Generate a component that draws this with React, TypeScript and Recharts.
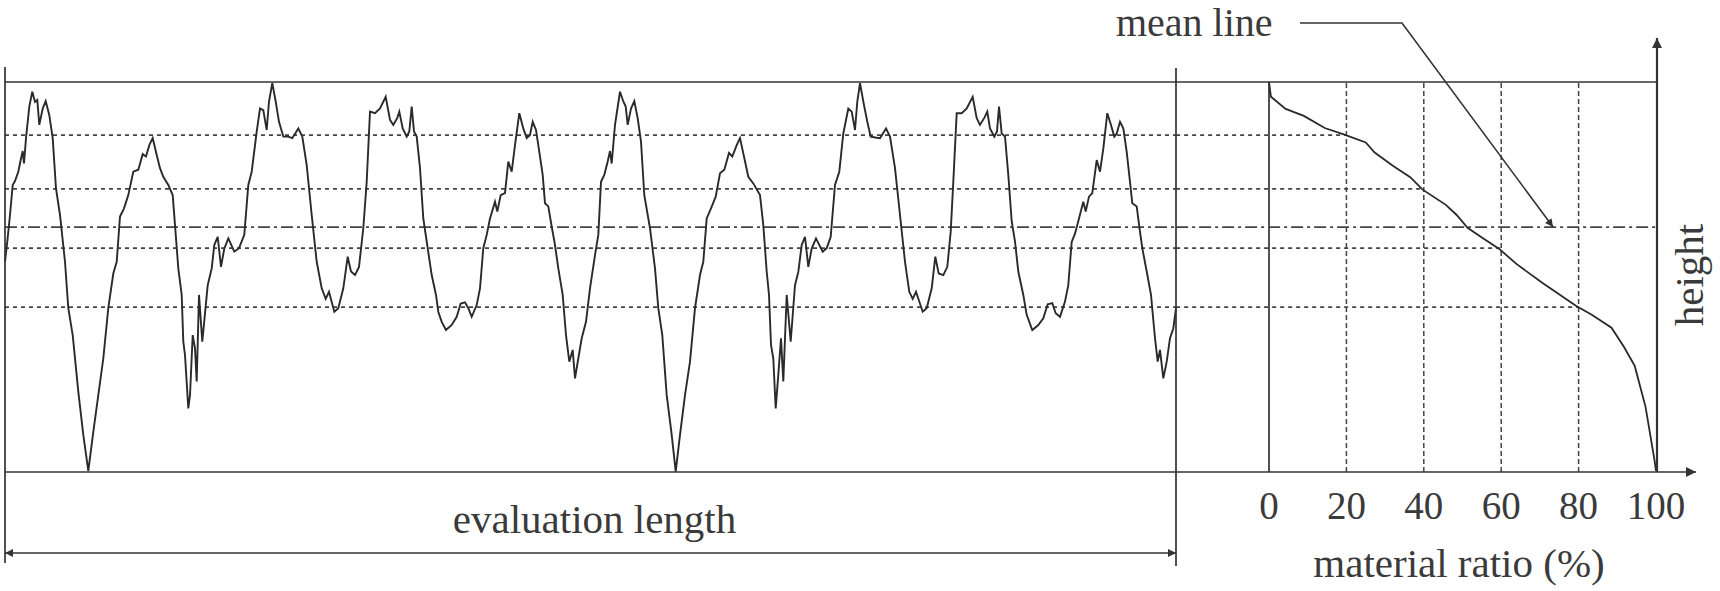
import React from 'react';
import { LineChart, Line, XAxis, YAxis, ReferenceLine } from 'recharts';

// profile readings: [position along evaluation length, height 0..100]
const profileReadings: [number, number][] = [
  [5, 53.9], [7.3, 59.1], [10, 65.9], [12.7, 73.6], [15, 74.6], [18.3, 77], [20.7, 80], [22.7, 82.3],
  [24, 79.1], [26, 85.6], [29.3, 93.7], [32.3, 97.5], [35, 94.9], [37.3, 95.4], [39.3, 89], [42.7, 93.2],
  [45.7, 95.1], [49.3, 91.5], [52.7, 85.6], [56, 72.7], [60, 65.9], [65, 53.9], [68.3, 42], [72.7, 35.1],
  [78.3, 20.6], [83.3, 9.5], [88.3, 0.3], [93.3, 10.3], [98.3, 19.7], [103.3, 29.1], [108.3, 42], [113.3, 50.9],
  [116.7, 53.9], [120, 65.5], [124, 67.6], [128.3, 71], [133.3, 77], [138.3, 77.5], [142.7, 81.5], [146, 80.9],
  [149.3, 83.8], [152.7, 85.6], [156.7, 81.3], [160, 77.9], [163.3, 75.7], [168.3, 73.6], [172.7, 71], [175, 63.3],
  [178.3, 52.2], [181.7, 45.4], [183.3, 33.4], [185, 30], [188.3, 16.3], [190, 19.7], [192.7, 35.1], [195, 31.7],
  [196.7, 23.2], [199, 45.4], [202.3, 33.4], [207.7, 47.9], [211.7, 52.2], [214.3, 58.2], [217.7, 60.3], [221, 52.6],
  [224.3, 57.3], [228.3, 59.9], [234.3, 56.5], [239, 57.4], [244.3, 60.8], [248.3, 73.6], [251.7, 77], [256.7, 87.3],
  [260, 93.2], [263.3, 92.8], [266.7, 87.7], [269, 95], [272.3, 99.7], [275.7, 95], [279, 89.8], [283.3, 86],
  [288.3, 86], [292.3, 85.6], [298.3, 88.1], [302.3, 86], [306.7, 78.7], [311.7, 65.9], [316.7, 53.9], [321.7, 47.1],
  [325.7, 44.4], [329, 46.2], [334.3, 41.1], [338.3, 42], [343.3, 47.1], [347.7, 55.2], [351, 51.4], [355, 50.5],
  [359, 52.6], [363.3, 62.5], [366.7, 74.4], [370, 92.4], [375, 92], [380, 93.2], [385.7, 96.2], [390, 90.3],
  [393.3, 89], [397.3, 90.8], [399.3, 92.4], [402.7, 88.1], [406.7, 86], [409.3, 87.3], [411.7, 93.7], [414, 87.3],
  [416.7, 86], [420, 77.9], [423.3, 65], [426.7, 59.1], [431.7, 50.5], [436, 45.4], [438.3, 41.1], [441.7, 38.5],
  [446, 36.4], [451.7, 37.7], [456.7, 39.8], [460.7, 43.2], [465, 43.5], [468.3, 42], [471.7, 39.8], [476.7, 42.8],
  [480, 47.1], [483.3, 57.4], [486.7, 60.8], [490, 65], [495, 69.3], [497.3, 66.8], [500.7, 71], [505, 71.5],
  [508.3, 79.6], [511.7, 77], [515, 83.8], [519.3, 92], [523.3, 88.1], [526.7, 85.6], [530, 86.4], [532.7, 89.8],
  [536, 87.7], [539.3, 82.1], [542.7, 76.2], [545, 68.9], [548.3, 68.1], [551.7, 62.9], [555, 58.2], [558.3, 52.2],
  [562.7, 45.4], [566, 35.1], [569.3, 28.3], [572.7, 31.3], [575, 24], [578.3, 29.1], [581.7, 34.3], [586, 38.5],
  [590, 47.1], [595, 55.6], [598.3, 60.8], [601, 74.4], [604.3, 76.2], [607.7, 79.6], [610, 82.3], [611.7, 79.1],
  [615, 89], [620, 97.5], [623.3, 95], [625.7, 93.7], [627.7, 89], [631, 93.2], [634.3, 95.1], [637.7, 90.7],
  [641, 84.7], [644.3, 71], [650, 62.5], [655, 52.2], [658.3, 42], [662.3, 35.1], [666.7, 19.7], [671.7, 9.5],
  [675.7, 0.1], [680, 9.5], [685, 19.7], [690, 28.3], [695, 42], [700, 50.5], [703.3, 53.9], [706.7, 65],
  [711, 67.6], [715.7, 70.6], [720, 76.6], [724.3, 77.5], [729, 81.8], [732.3, 80.9], [736.7, 83.8], [740, 85.6],
  [744.3, 80.5], [748.3, 75.7], [753.3, 74], [760, 71], [763.3, 63.3], [766.7, 51.4], [769, 45.4], [771, 32.6],
  [773.3, 29.1], [775.7, 16.3], [778.3, 24.9], [781, 34.3], [783.3, 23.2], [786.7, 45.4], [790.7, 33.4], [795, 47.9],
  [798.3, 51.3], [801.7, 58.2], [805, 60.3], [808.3, 52.6], [811.7, 57.3], [816, 59.9], [822.7, 56.5], [826.7, 57.4],
  [830.7, 60.3], [835, 73.6], [839.3, 77], [843.3, 86.8], [848.3, 93.2], [851.7, 92.4], [855, 87.7], [857.3, 95],
  [860, 99.7], [863.3, 95], [867.3, 89.8], [870.7, 86], [876.7, 85.7], [880, 85.6], [886, 88.1], [890, 86],
  [895, 77.9], [900, 65.9], [905, 53.9], [909.3, 46.2], [912.7, 44.4], [916, 46.2], [922.7, 41.1], [926.7, 42],
  [931.7, 47.1], [935.3, 55.2], [938.7, 50.9], [943.3, 50.5], [947.3, 52.6], [950.7, 61.6], [953.3, 74.4], [956.7, 92],
  [961.7, 92], [966.7, 93.2], [972.7, 96.2], [976.7, 90.7], [980, 89], [984.3, 90.8], [987.3, 92.4], [990, 88.1],
  [994.3, 86], [997, 87.3], [999, 93.7], [1001.7, 86.8], [1005, 86], [1008.3, 76.2], [1011.7, 64.3], [1015, 59.1],
  [1018.3, 51.4], [1023.3, 45.4], [1026.7, 40.3], [1032.3, 36.4], [1038.3, 37.7], [1043.3, 39.4], [1047.7, 43], [1052.3, 43.3],
  [1055.7, 40.7], [1060, 39.8], [1065, 43.7], [1068.3, 47.9], [1071.7, 59], [1075, 61.1], [1079, 65], [1083.3, 69.3],
  [1085.7, 66.8], [1089, 70.6], [1092.3, 71.5], [1096.7, 80], [1100, 77], [1103.3, 82.9], [1107.3, 92], [1111, 89],
  [1114.3, 86], [1116.7, 86.8], [1120, 89.8], [1123.3, 88.1], [1126.7, 82.1], [1130, 74.4], [1132.3, 68.9], [1136.7, 68.1],
  [1140, 61.6], [1142.3, 57.4], [1146.7, 51.4], [1151, 45.4], [1155, 34.3], [1157.7, 28.3], [1160, 31.3], [1163.3, 24],
  [1166.7, 28.3], [1170, 34.3], [1173.3, 36.8], [1176, 42],
];

// material ratio curve: [ratio %, height]
const ratioReadings: [number, number][] = [
  [0, 100], [0.5, 96.2], [4.3, 93.1], [9, 91.3], [14.4, 88.2], [19.5, 86.5], [25, 84.5], [27.3, 81.9],
  [32, 78.5], [36.5, 75.6], [39.7, 72.4], [45.7, 68.5], [48.5, 65.9], [51.3, 62.6], [55, 60.1], [59.5, 57.2],
  [64, 53.3], [70.6, 48.5], [79.3, 42.6], [83.4, 40.3], [88.5, 37], [91.7, 32.1], [94.5, 27.2], [97.3, 16.7],
  [99.6, 3.1], [100, 0.3],
];

const cutLevels = [86.4, 72.6, 57.4, 42.3];
const cutRatios = [20, 40, 60, 80];
const meanLevel = 62.8;
const ratioTicks = [0, 20, 40, 60, 80, 100];
const arrowRatio = 73.4;

const profileData = profileReadings.map(([x, h]) => ({ x, h }));
const ratioData = ratioReadings.map(([ratio, h]) => ({ ratio, h }));

const W = 1720;
const H = 591;
const TOP = 82;
const BOTTOM = 472;
const L0 = 5;
const L1 = 1176;
const R0 = 1269;
const R1 = 1656;
const INK = '#333';
const FONT = '"Liberation Serif", "Times New Roman", serif';

const rx = (r: number) => R0 + (r / 100) * (R1 - R0);
const hy = (h: number) => BOTTOM - (h / 100) * (BOTTOM - TOP);

const dotted = '4 4';
const dashDot = '12 4 3 4';

export default function App() {
  const tipX = rx(arrowRatio);
  const tipY = hy(meanLevel);
  return (
    <div style={{ position: 'absolute', left: 0, top: 0, width: W, height: H, background: '#fff' }}>
      <div style={{ position: 'absolute', left: 0, top: 0 }}>
        <LineChart width={W} height={H} data={profileData}
          margin={{ top: TOP, right: W - L1, bottom: H - BOTTOM, left: L0 }}>
          <XAxis dataKey="x" type="number" domain={[L0, L1]} hide />
          <YAxis type="number" domain={[0, 100]} hide />
          {cutLevels.map((lv) => (
            <ReferenceLine key={lv} y={lv} stroke="#444" strokeWidth={1.7} strokeDasharray={dotted} />
          ))}
          <ReferenceLine y={meanLevel} stroke="#444" strokeWidth={1.7} strokeDasharray={dashDot} />
          <Line type="linear" dataKey="h" stroke="#2a2a2a" strokeWidth={1.9} dot={false}
            isAnimationActive={false} />
        </LineChart>
      </div>
      <div style={{ position: 'absolute', left: 0, top: 0 }}>
        <LineChart width={W} height={H} data={ratioData}
          margin={{ top: TOP, right: W - R1, bottom: H - BOTTOM - 30, left: R0 }}>
          <XAxis dataKey="ratio" type="number" domain={[0, 100]} ticks={ratioTicks} interval={0}
            axisLine={false} tickLine={false} tickSize={0} tickMargin={19} height={30}
            tick={{ fontSize: 39, fill: '#3a3a3a', fontFamily: FONT }} />
          <YAxis type="number" domain={[0, 100]} hide />
          {cutRatios.map((r) => (
            <ReferenceLine key={'v' + r} x={r} stroke="#444" strokeWidth={1.5} strokeDasharray="5 3" />
          ))}
          <ReferenceLine x={0} stroke={INK} strokeWidth={1.7} />
          {cutLevels.map((lv, i) => (
            <ReferenceLine key={'h' + lv} ifOverflow="visible" stroke="#444" strokeWidth={1.7}
              strokeDasharray={dotted}
              segment={[{ x: -24, y: lv }, { x: cutRatios[i], y: lv }]} />
          ))}
          <ReferenceLine ifOverflow="visible" stroke="#444" strokeWidth={1.7} strokeDasharray={dashDot}
            segment={[{ x: -24, y: meanLevel }, { x: 100, y: meanLevel }]} />
          <Line type="linear" dataKey="h" stroke="#2a2a2a" strokeWidth={1.8} dot={false}
            isAnimationActive={false} />
        </LineChart>
      </div>
      <svg width={W} height={H} style={{ position: 'absolute', left: 0, top: 0, pointerEvents: 'none' }}>
        <defs>
          <marker id="head" viewBox="0 0 10 10" refX="10" refY="5" markerUnits="userSpaceOnUse"
            markerWidth="11" markerHeight="8" orient="auto-start-reverse">
            <path d="M0,0 L10,5 L0,10 z" fill={INK} />
          </marker>
          <marker id="bighead" viewBox="0 0 10 10" refX="10" refY="5" markerUnits="userSpaceOnUse"
            markerWidth="13" markerHeight="10" orient="auto">
            <path d="M0,0 L10,5 L0,10 z" fill={INK} />
          </marker>
        </defs>
        <g stroke={INK} strokeWidth={1.7} fill="none">
          <line x1={L0} y1={TOP} x2={R1} y2={TOP} />
          <line x1={L0} y1={BOTTOM} x2={1696} y2={BOTTOM} markerEnd="url(#bighead)" />
          <line x1={L0} y1={67} x2={L0} y2={563} />
          <line x1={L1} y1={68} x2={L1} y2={566} />
          <line x1={R1 + 1} y1={BOTTOM} x2={R1 + 1} y2={38} markerEnd="url(#bighead)" strokeWidth={2.2} />
          <line x1={L0} y1={553} x2={L1} y2={553} markerStart="url(#head)" markerEnd="url(#head)" strokeWidth={1.5} />
          <polyline points={`1300,23 1402,23 ${tipX},${tipY}`} strokeWidth={1.6} markerEnd="url(#head)" />
        </g>
        <g fill="#3a3a3a" fontFamily={FONT}>
          <text x={1116} y={36} fontSize={40}>mean line</text>
          <text x={(L0 + L1) / 2 + 4} y={533} fontSize={41} textAnchor="middle">evaluation length</text>
          <text x={1459} y={577} fontSize={41} textAnchor="middle">material ratio (%)</text>
          <text x={1703} y={275} fontSize={41} textAnchor="middle" transform="rotate(-90 1703 275)">height</text>
        </g>
      </svg>
    </div>
  );
}
